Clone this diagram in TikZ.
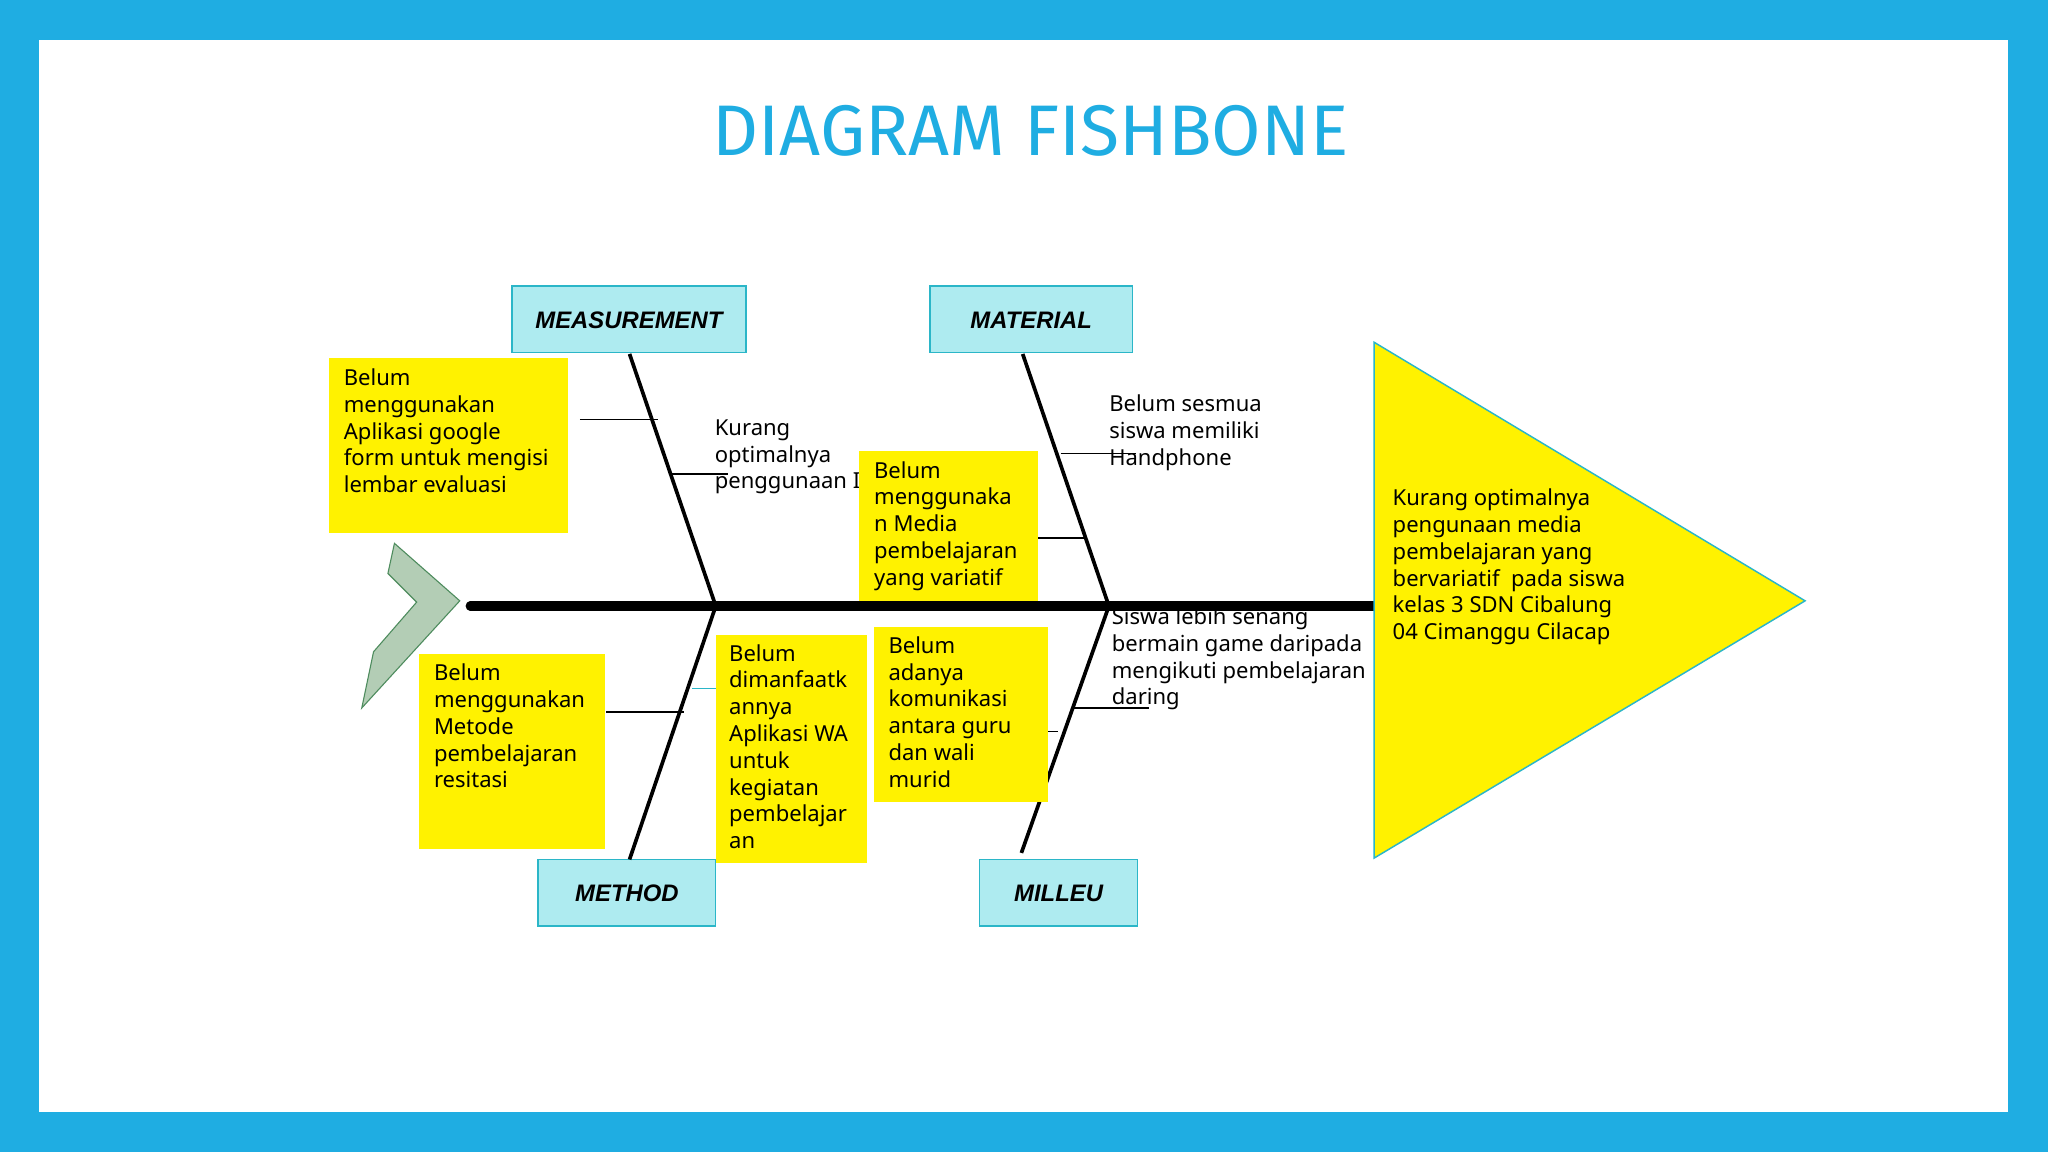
\documentclass[tikz,border=0pt]{standalone}
\usepackage{fontspec}
\setmainfont{Noto Sans}
\newfontfamily\lab{Liberation Sans}
\newfontfamily\ttl{Fira Sans}
\definecolor{frame}{HTML}{1FADE2}
\definecolor{cyanf}{HTML}{AEEBF0}
\definecolor{cyanb}{HTML}{2BB6C8}
\definecolor{chev}{HTML}{B3CDB5}
\definecolor{chevb}{HTML}{4E8C5E}
\tikzset{
 cat/.style={draw=cyanb,fill=cyanf,line width=0.8pt},
 catt/.style={font=\lab\fontsize{13}{15}\selectfont\bfseries\itshape},
 note/.style={fill=yellow},
 txt/.style={anchor=north west,inner sep=0pt,align=left,font=\fontsize{12}{14.6}\selectfont},
 bone/.style={line width=2pt},
 sub/.style={line width=0.8pt}
}
\begin{document}
\begin{tikzpicture}[x=0.25mm,y=-0.25mm]
\useasboundingbox (0,0) rectangle (1568,882);
\fill[frame] (0,0) rectangle (1568,882);
\fill[white] (30,31) rectangle (1537,851);
\node[text=frame,font=\ttl\fontsize{39}{44}\selectfont] (title) at (789,100) {DIAGRAM FISHBONE};
% plain texts
\node[txt] (t1) at (547,321) {Kurang\\optimalnya\\penggunaan I};
\node[txt] (t2) at (849,302) {Belum sesmua\\siswa memiliki\\Handphone};
\node[txt] (t3) at (851,465) {Siswa lebih senang\\bermain game daripada\\mengikuti pembelajaran\\daring};
% chevron
\draw[fill=chev,draw=chevb,line width=0.6pt] (302,416) -- (352,460) -- (277,542) -- (286,499) -- (319,461) -- (297,439) -- cycle;
% coordinates
\coordinate (j1) at (548,464);
\coordinate (j2) at (849,464);
\coordinate (s0) at (360,464);
\coordinate (s1) at (1052,464);
% boxes
\draw[cat] (392,219) rectangle (571,270); \node[catt] (mea) at (481.5,245) {MEASUREMENT};
\draw[cat] (712,219) rectangle (867,270); \node[catt] (mat) at (789.5,245) {MATERIAL};
\draw[cat] (412,658) rectangle (548,709); \node[catt] (met) at (480,684) {METHOD};
\draw[cat] (750,658) rectangle (871,709); \node[catt] (mil) at (810.5,684) {MILLEU};
\coordinate (b1) at (482,271); \coordinate (b2) at (482,658);
\coordinate (b3) at (783,271); \coordinate (b4) at (782,653);
\draw[bone] (b1) -- (j1) -- (b2);
\draw[bone] (b3) -- (j2) -- (b4);
\draw[line width=5pt,line cap=round] (s0) -- (s1);
% sub lines
\draw[sub] (444,321) -- (504,321);
\draw[sub] (514,363) -- (557,363);
\draw[sub] (812,347) -- (870,347);
\draw[sub] (795,412) -- (832,412);
\draw[sub] (464,545) -- (524,545);
\draw[sub,cyanb] (530,527) -- (548,527);
\draw[sub] (820,542) -- (880,542);
\draw[sub] (802,560) -- (810,560);
% yellow notes
\fill[note] (252,274) rectangle (435,408);
\node[txt] (n1) at (263,282) {Belum\\menggunakan\\Aplikasi google\\form untuk mengisi\\lembar evaluasi};
\fill[note] (658,345) rectangle (795,460);
\node[txt] (n2) at (669,353) {Belum\\menggunaka\\n Media\\pembelajaran\\yang variatif};
\fill[note] (321,501) rectangle (463,650);
\node[txt] (n3) at (332,508) {Belum\\menggunakan\\Metode\\pembelajaran\\resitasi};
\fill[note] (548,486) rectangle (664,661);
\node[txt] (n4) at (558,493) {Belum\\dimanfaatk\\annya\\Aplikasi WA\\untuk\\kegiatan\\pembelajar\\an};
\fill[note] (669,480) rectangle (802,614);
\node[txt] (n5) at (680,487) {Belum\\adanya\\komunikasi\\antara guru\\dan wali\\murid};
% head
\draw[fill=yellow,draw=cyanb,line width=0.8pt] (1052,262) -- (1382,460) -- (1052,657) -- cycle;
\node[txt] (head) at (1066,374) {Kurang optimalnya\\pengunaan media\\pembelajaran yang\\bervariatif\ \ pada siswa\\kelas 3 SDN Cibalung\\04 Cimanggu Cilacap};
\end{tikzpicture}
\end{document}
